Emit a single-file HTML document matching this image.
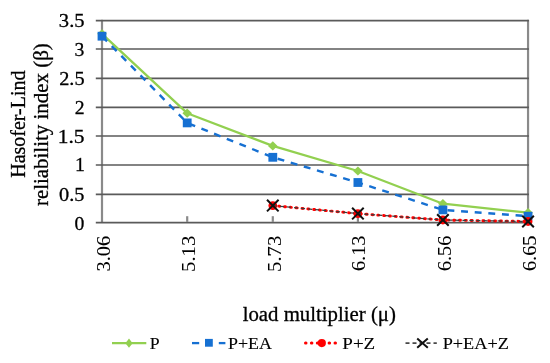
<!DOCTYPE html>
<html><head><meta charset="utf-8"><style>
html,body{margin:0;padding:0;background:#fff;}
svg{display:block;}
text{font-family:"Liberation Serif",serif;fill:#000;stroke:#000;stroke-width:0.3px;}
.nx{stroke-width:0.05px;}
.lg{stroke-width:0.12px;}
</style></head><body>
<svg width="550" height="363" viewBox="0 0 550 363">
<rect width="550" height="363" fill="#fff"/>
<line x1="102.0" y1="19.80" x2="102.0" y2="222.65" stroke="#8a8a8a" stroke-width="2.2"/>
<line x1="528.05" y1="19.80" x2="528.05" y2="222.65" stroke="#8a8a8a" stroke-width="2.2"/>
<line x1="187.20" y1="216.2" x2="187.20" y2="221.80" stroke="#8a8a8a" stroke-width="2.2"/>
<line x1="272.80" y1="216.2" x2="272.80" y2="221.80" stroke="#8a8a8a" stroke-width="2.2"/>
<line x1="357.90" y1="216.2" x2="357.90" y2="221.80" stroke="#8a8a8a" stroke-width="2.2"/>
<line x1="442.90" y1="216.2" x2="442.90" y2="221.80" stroke="#8a8a8a" stroke-width="2.2"/>
<line x1="95.8" y1="222.65" x2="528.9" y2="222.65" stroke="#5a5a5a" stroke-width="1.7"/>
<line x1="95.8" y1="194.30" x2="528.9" y2="194.30" stroke="#5a5a5a" stroke-width="1.7"/>
<line x1="95.8" y1="165.00" x2="528.9" y2="165.00" stroke="#5a5a5a" stroke-width="1.7"/>
<line x1="95.8" y1="136.00" x2="528.9" y2="136.00" stroke="#5a5a5a" stroke-width="1.7"/>
<line x1="95.8" y1="107.40" x2="528.9" y2="107.40" stroke="#5a5a5a" stroke-width="1.7"/>
<line x1="95.8" y1="78.30" x2="528.9" y2="78.30" stroke="#5a5a5a" stroke-width="1.7"/>
<line x1="95.8" y1="49.00" x2="528.9" y2="49.00" stroke="#5a5a5a" stroke-width="1.7"/>
<line x1="95.8" y1="20.65" x2="528.9" y2="20.65" stroke="#5a5a5a" stroke-width="1.7"/>
<text id="yl0" x="74.62" y="229.82" style="font-size:19.70px">0</text>
<text id="yl1" x="59.09" y="201.22" style="font-size:19.70px" textLength="25.36" lengthAdjust="spacingAndGlyphs">0.5</text>
<text id="yl2" x="74.98" y="171.29" style="font-size:19.70px">1</text>
<text id="yl3" x="57.79" y="142.60" style="font-size:19.70px" textLength="26.79" lengthAdjust="spacingAndGlyphs">1.5</text>
<text id="yl4" x="74.78" y="114.46" style="font-size:19.70px">2</text>
<text id="yl5" x="59.20" y="85.00" style="font-size:19.70px" textLength="25.38" lengthAdjust="spacingAndGlyphs">2.5</text>
<text id="yl6" x="74.59" y="55.72" style="font-size:19.70px">3</text>
<text id="yl7" x="58.89" y="27.22" style="font-size:19.70px" textLength="25.68" lengthAdjust="spacingAndGlyphs">3.5</text>
<text id="xl0" class="nx" transform="translate(109.70,271.53) rotate(-90)" style="font-size:19.40px" textLength="35.79" lengthAdjust="spacingAndGlyphs">3.06</text>
<text id="xl1" class="nx" transform="translate(195.04,271.93) rotate(-90)" style="font-size:19.40px" textLength="36.27" lengthAdjust="spacingAndGlyphs">5.13</text>
<text id="xl2" class="nx" transform="translate(280.77,271.93) rotate(-90)" style="font-size:19.40px" textLength="36.27" lengthAdjust="spacingAndGlyphs">5.73</text>
<text id="xl3" class="nx" transform="translate(365.48,271.10) rotate(-90)" style="font-size:19.40px" textLength="35.58" lengthAdjust="spacingAndGlyphs">6.13</text>
<text id="xl4" class="nx" transform="translate(450.57,271.10) rotate(-90)" style="font-size:19.40px" textLength="35.34" lengthAdjust="spacingAndGlyphs">6.56</text>
<text id="xl5" class="nx" transform="translate(535.78,271.10) rotate(-90)" style="font-size:19.40px" textLength="35.63" lengthAdjust="spacingAndGlyphs">6.65</text>
<text id="yt1" transform="translate(25.10,177.70) rotate(-90)" style="font-size:20.60px" textLength="107.09" lengthAdjust="spacingAndGlyphs">Hasofer-Lind</text>
<text id="yt2" transform="translate(47.88,206.09) rotate(-90)" style="font-size:20.60px" textLength="162.89" lengthAdjust="spacingAndGlyphs">reliability index (β)</text>
<text id="xt" x="242.69" y="321.04" style="font-size:20.50px" textLength="153.20" lengthAdjust="spacingAndGlyphs">load multiplier (μ)</text>
<text id="lP" class="lg" x="149.80" y="349.30" style="font-size:17.50px" textLength="9.90" lengthAdjust="spacingAndGlyphs">P</text>
<text id="lPEA" class="lg" x="228.03" y="349.30" style="font-size:17.50px" textLength="43.95" lengthAdjust="spacingAndGlyphs">P+EA</text>
<text id="lPZ" class="lg" x="342.35" y="349.30" style="font-size:17.50px" textLength="32.89" lengthAdjust="spacingAndGlyphs">P+Z</text>
<text id="lPEAZ" class="lg" x="442.68" y="349.30" style="font-size:17.50px" textLength="66.22" lengthAdjust="spacingAndGlyphs">P+EA+Z</text>
<polyline points="102.00,33.80 187.20,113.20 272.80,145.90 357.90,171.00 442.90,203.70 528.05,212.70" fill="none" stroke="#92d050" stroke-width="2.3" stroke-linejoin="round"/>
<path d="M102.00 29.20L106.80 33.80L102.00 38.40L97.20 33.80Z" fill="#92d050"/>
<path d="M187.20 108.60L192.00 113.20L187.20 117.80L182.40 113.20Z" fill="#92d050"/>
<path d="M272.80 141.30L277.60 145.90L272.80 150.50L268.00 145.90Z" fill="#92d050"/>
<path d="M357.90 166.40L362.70 171.00L357.90 175.60L353.10 171.00Z" fill="#92d050"/>
<path d="M442.90 199.10L447.70 203.70L442.90 208.30L438.10 203.70Z" fill="#92d050"/>
<path d="M528.05 208.10L532.85 212.70L528.05 217.30L523.25 212.70Z" fill="#92d050"/>
<polyline points="102.00,36.20 187.20,122.90 272.80,157.30 357.90,182.50 442.90,209.90 528.05,216.20" fill="none" stroke="#1670d2" stroke-width="2.4" stroke-dasharray="6.9 6.76" stroke-dashoffset="-0.3"/>
<rect x="97.60" y="31.80" width="8.8" height="8.8" fill="#1670d2"/>
<rect x="182.80" y="118.50" width="8.8" height="8.8" fill="#1670d2"/>
<rect x="268.40" y="152.90" width="8.8" height="8.8" fill="#1670d2"/>
<rect x="353.50" y="178.10" width="8.8" height="8.8" fill="#1670d2"/>
<rect x="438.50" y="205.50" width="8.8" height="8.8" fill="#1670d2"/>
<rect x="523.65" y="211.80" width="8.8" height="8.8" fill="#1670d2"/>
<polyline points="272.80,205.60 357.90,213.60 442.90,220.00 528.05,221.50" fill="none" stroke="#ff0000" stroke-width="2.9" stroke-dasharray="1 4.85" stroke-dashoffset="-0.1" stroke-linecap="round"/>
<circle cx="272.80" cy="205.60" r="4.4" fill="#ff0000"/>
<circle cx="357.90" cy="213.60" r="4.4" fill="#ff0000"/>
<circle cx="442.90" cy="220.00" r="4.4" fill="#ff0000"/>
<circle cx="528.05" cy="221.50" r="4.4" fill="#ff0000"/>
<polyline points="272.80,205.60 357.90,213.60 442.90,220.00 528.05,221.50" fill="none" stroke="#3c3c3c" stroke-width="1.25" stroke-dasharray="4 3.036" stroke-dashoffset="-0.26"/>
<path d="M267.00 199.80L278.60 211.40M278.60 199.80L267.00 211.40" stroke="#111111" stroke-width="2.0" fill="none"/>
<path d="M352.10 207.80L363.70 219.40M363.70 207.80L352.10 219.40" stroke="#111111" stroke-width="2.0" fill="none"/>
<path d="M437.10 214.20L448.70 225.80M448.70 214.20L437.10 225.80" stroke="#111111" stroke-width="2.0" fill="none"/>
<path d="M522.25 215.70L533.85 227.30M533.85 215.70L522.25 227.30" stroke="#111111" stroke-width="2.0" fill="none"/>
<line x1="112" y1="343.1" x2="146.3" y2="343.1" stroke="#92d050" stroke-width="2.3"/>
<path d="M129.00 338.60L132.60 343.20L129.00 347.80L125.40 343.20Z" fill="#92d050"/>
<line x1="192" y1="343.1" x2="199.2" y2="343.1" stroke="#1670d2" stroke-width="2.3"/>
<rect x="205.00" y="338.90" width="7.8" height="7.8" fill="#1670d2"/>
<line x1="218.8" y1="343.1" x2="225.4" y2="343.1" stroke="#1670d2" stroke-width="2.3"/>
<line x1="305.5" y1="343.1" x2="336" y2="343.1" stroke="#ff0000" stroke-width="3.0" stroke-dasharray="0.5 5.4" stroke-linecap="round"/>
<circle cx="321.8" cy="343.1" r="4.1" fill="#ff0000"/>
<line x1="405.5" y1="343.1" x2="436.8" y2="343.1" stroke="#484848" stroke-width="1.8" stroke-dasharray="4 3"/>
<path d="M417.20 338.50L427.80 347.70M427.80 338.50L417.20 347.70" stroke="#111111" stroke-width="2.0" fill="none"/>
</svg>
</body></html>
